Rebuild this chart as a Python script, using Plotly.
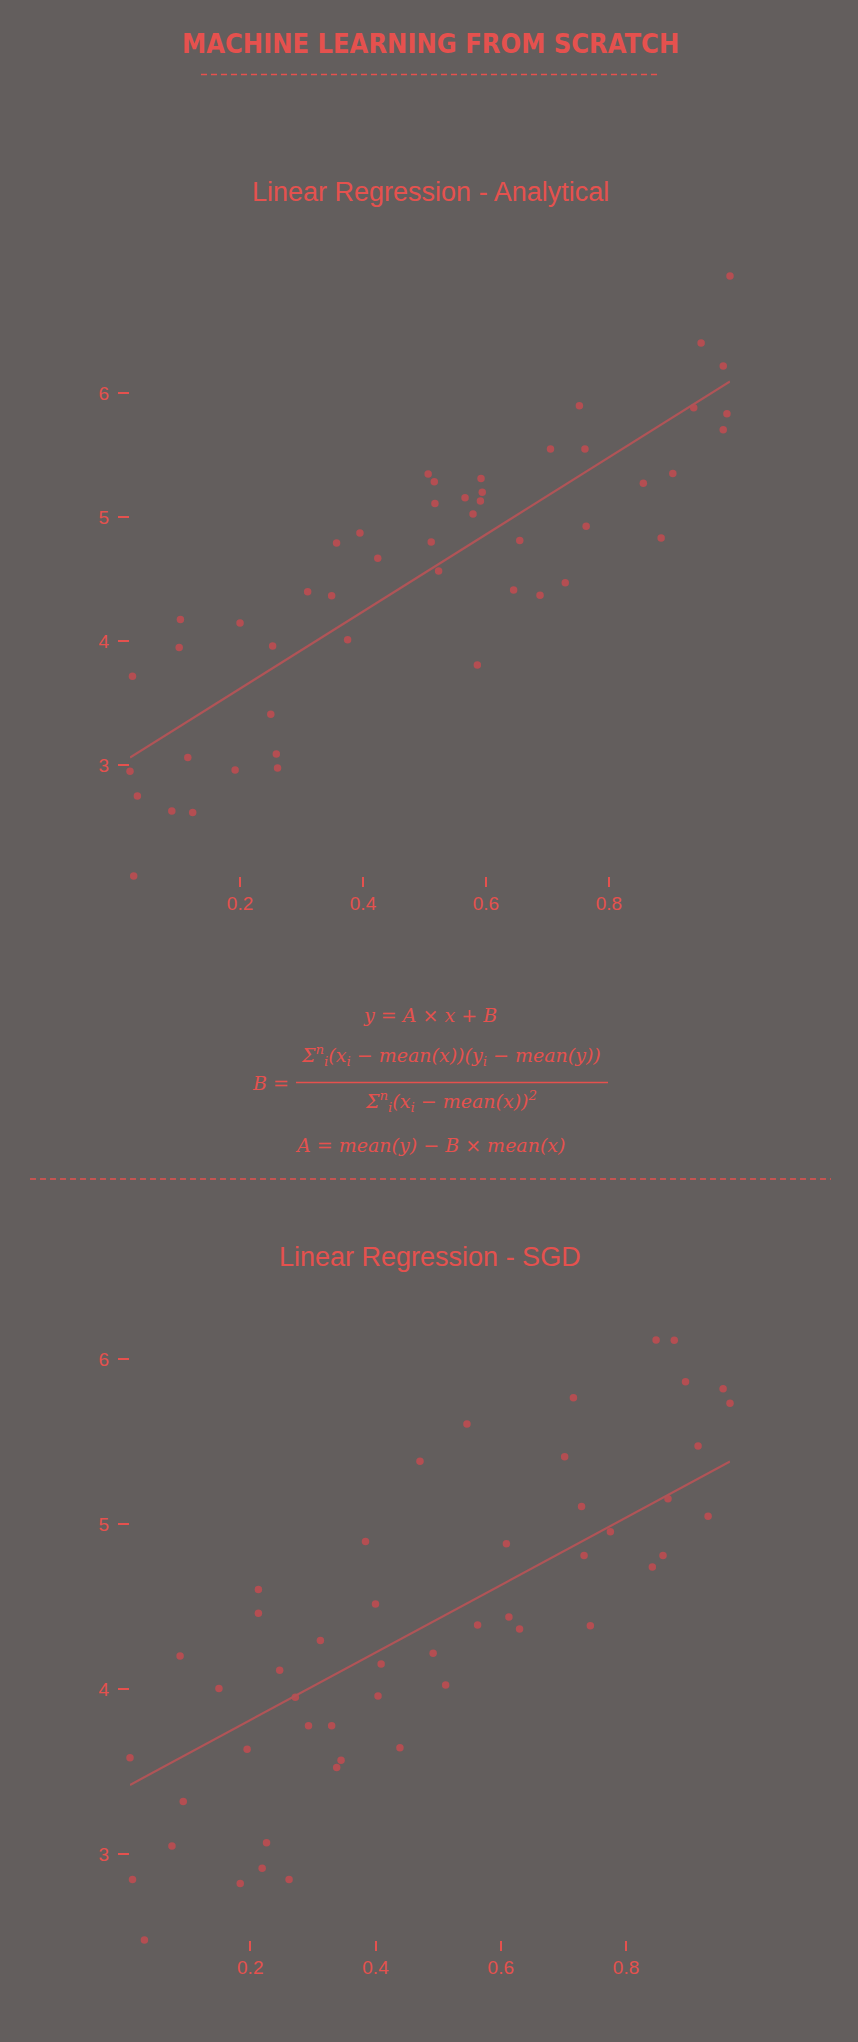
import plotly.graph_objects as go

# ---------------- data ----------------
# Chart 1: Linear Regression - Analytical
an_x = [0.997, 0.950, 0.986, 0.752, 0.938, 0.992, 0.986, 0.705, 0.761, 0.506,
        0.516, 0.592, 0.904, 0.856, 0.594, 0.566, 0.591, 0.517, 0.579, 0.763,
        0.885, 0.395, 0.357, 0.511, 0.655, 0.424, 0.523, 0.310, 0.349, 0.729,
        0.645, 0.688, 0.103, 0.200, 0.101, 0.253, 0.375, 0.586, 0.025, 0.250,
        0.115, 0.259, 0.261, 0.192, 0.021, 0.033, 0.089, 0.123, 0.027]
an_y = [6.944, 6.403, 6.218, 5.898, 5.882, 5.834, 5.705, 5.548, 5.548, 5.347,
        5.285, 5.310, 5.352, 5.272, 5.199, 5.156, 5.129, 5.110, 5.024, 4.925,
        4.831, 4.871, 4.790, 4.798, 4.810, 4.667, 4.565, 4.398, 4.366, 4.471,
        4.411, 4.369, 4.173, 4.145, 3.947, 3.960, 4.011, 3.806, 3.715, 3.409,
        3.060, 3.089, 2.976, 2.960, 2.949, 2.750, 2.629, 2.618, 2.105]
an_line_x = [0.021, 0.997]
an_line_y = [3.06, 6.094]

# Chart 2: Linear Regression - SGD
sgd_x = [0.848, 0.877, 0.895, 0.955, 0.716, 0.966, 0.546, 0.915, 0.471, 0.702,
         0.867, 0.729, 0.931, 0.775, 0.384, 0.609, 0.733, 0.859, 0.842, 0.213,
         0.400, 0.213, 0.613, 0.563, 0.743, 0.630, 0.312, 0.088, 0.492, 0.409,
         0.247, 0.150, 0.512, 0.404, 0.272, 0.293, 0.330, 0.195, 0.439, 0.008,
         0.345, 0.338, 0.093, 0.075, 0.226, 0.219, 0.012, 0.262, 0.184, 0.031]
sgd_y = [6.117, 6.115, 5.864, 5.822, 5.767, 5.733, 5.608, 5.475, 5.382, 5.410,
         5.155, 5.107, 5.048, 4.955, 4.895, 4.882, 4.810, 4.810, 4.741, 4.604,
         4.517, 4.461, 4.438, 4.390, 4.385, 4.365, 4.295, 4.202, 4.218, 4.153,
         4.115, 4.004, 4.026, 3.959, 3.952, 3.779, 3.779, 3.636, 3.646, 3.585,
         3.570, 3.525, 3.319, 3.050, 3.070, 2.915, 2.846, 2.846, 2.822, 2.480]
sgd_line_x = [0.008, 0.966]
sgd_line_y = [3.42, 5.38]

x_tick_vals = [0.2, 0.4, 0.6, 0.8]
x_tick_text = ["0.2", "0.4", "0.6", "0.8"]
y_tick_vals = [3, 4, 5, 6]
y_tick_text = ["3", "4", "5", "6"]

page_title = "MACHINE LEARNING FROM SCRATCH"
chart_titles = ["Linear Regression - Analytical", "Linear Regression - SGD"]
formula_lines = [
    "<i>y</i> = <i>A</i> × <i>x</i> + <i>B</i>",
    "<i>B</i> =",
    "Σ<sup><i>n</i></sup><sub><i>i</i></sub>(<i>x<sub>i</sub></i> − <i>mean</i>(<i>x</i>))(<i>y<sub>i</sub></i> − <i>mean</i>(<i>y</i>))",
    "Σ<sup><i>n</i></sup><sub><i>i</i></sub>(<i>x<sub>i</sub></i> − <i>mean</i>(<i>x</i>))<sup>2</sup>",
    "<i>A</i> = <i>mean</i>(<i>y</i>) − <i>B</i> × <i>mean</i>(<i>x</i>)",
]

# ---------------- style ----------------
W, H = 858, 2042
BG = "#635e5d"
RED = "#e5514e"
DOT = "#b44e52"
LINE = "#b05457"
SANS = "Liberation Sans, Arial, sans-serif"
SERIF = "DejaVu Serif, serif"


def px(x):
    return x / W


def py(y):
    return 1 - y / H


fig = go.Figure()

fig.add_trace(go.Scatter(x=an_x, y=an_y, mode="markers", xaxis="x", yaxis="y",
                         marker=dict(size=7.5, color=DOT), cliponaxis=False,
                         showlegend=False, hoverinfo="skip"))
fig.add_trace(go.Scatter(x=an_line_x, y=an_line_y, mode="lines", xaxis="x", yaxis="y",
                         line=dict(color=LINE, width=2.2), cliponaxis=False,
                         showlegend=False, hoverinfo="skip"))
fig.add_trace(go.Scatter(x=sgd_x, y=sgd_y, mode="markers", xaxis="x2", yaxis="y2",
                         marker=dict(size=7.5, color=DOT), cliponaxis=False,
                         showlegend=False, hoverinfo="skip"))
fig.add_trace(go.Scatter(x=sgd_line_x, y=sgd_line_y, mode="lines", xaxis="x2", yaxis="y2",
                         line=dict(color=LINE, width=2.2), cliponaxis=False,
                         showlegend=False, hoverinfo="skip"))

tickfont = dict(family=SANS, size=19, color=RED)


def xaxis(dom, rng, anchor):
    return dict(domain=dom, range=rng, anchor=anchor, showgrid=False, zeroline=False,
                showline=False, ticks="outside", ticklen=10, tickwidth=1.5, tickcolor=RED,
                tickvals=x_tick_vals, ticktext=x_tick_text, tickfont=tickfont,
                ticklabelstandoff=0, fixedrange=True)


def yaxis(dom, rng, anchor):
    return dict(domain=dom, range=rng, anchor=anchor, showgrid=False, zeroline=False,
                showline=False, ticks="outside", ticklen=11, tickwidth=1.5, tickcolor=RED,
                tickvals=y_tick_vals, ticktext=y_tick_text, tickfont=tickfont,
                ticklabelstandoff=5, fixedrange=True)


xdom = [px(130), px(730)]
fig.update_layout(
    width=W, height=H, margin=dict(l=0, r=0, t=0, b=0),
    paper_bgcolor=BG, plot_bgcolor=BG,
    xaxis=xaxis(xdom, [min(an_x), max(an_x)], "y"),
    yaxis=yaxis([py(876), py(276)], [min(an_y), max(an_y)], "x"),
    xaxis2=xaxis(xdom, [min(sgd_x), max(sgd_x)], "y2"),
    yaxis2=yaxis([py(1940), py(1340)], [min(sgd_y), max(sgd_y)], "x2"),
)

ann = []
ann.append(dict(text="<b>" + page_title + "</b>", x=px(430), y=py(43),
                font=dict(family="DejaVu Sans Condensed, DejaVu Sans, sans-serif", size=27, color=RED)))
ann.append(dict(text=chart_titles[0], x=px(430), y=py(192),
                font=dict(family=SANS, size=27, color=RED)))
ann.append(dict(text=chart_titles[1], x=px(430), y=py(1257),
                font=dict(family=SANS, size=27, color=RED)))
mfont = dict(family=SERIF, size=19, color=RED, style="italic")
ann.append(dict(text=formula_lines[0], x=px(430), y=py(1015), font=mfont))
ann.append(dict(text=formula_lines[1], x=px(270), y=py(1083), font=mfont))
ann.append(dict(text=formula_lines[2], x=px(451), y=py(1055), font=mfont))
ann.append(dict(text=formula_lines[3], x=px(451), y=py(1101), font=mfont))
ann.append(dict(text=formula_lines[4], x=px(430), y=py(1145), font=mfont))
for a in ann:
    a.update(xref="paper", yref="paper", xanchor="center", yanchor="middle", showarrow=False)
fig.update_layout(annotations=ann)

fig.update_layout(shapes=[
    dict(type="line", xref="paper", yref="paper", x0=px(201), x1=px(659), y0=py(74.5), y1=py(74.5),
         line=dict(color=RED, width=1.5, dash="6px,4px")),
    dict(type="line", xref="paper", yref="paper", x0=px(296), x1=px(608), y0=py(1082.5), y1=py(1082.5),
         line=dict(color=RED, width=1.5)),
    dict(type="line", xref="paper", yref="paper", x0=px(30), x1=px(831), y0=py(1179), y1=py(1179),
         line=dict(color=RED, width=1.5, dash="6px,4px")),
])

fig.write_html("out.html", config=dict(displayModeBar=False),
               post_script="document.body.style.margin='0';document.body.style.background='%s';" % BG)
